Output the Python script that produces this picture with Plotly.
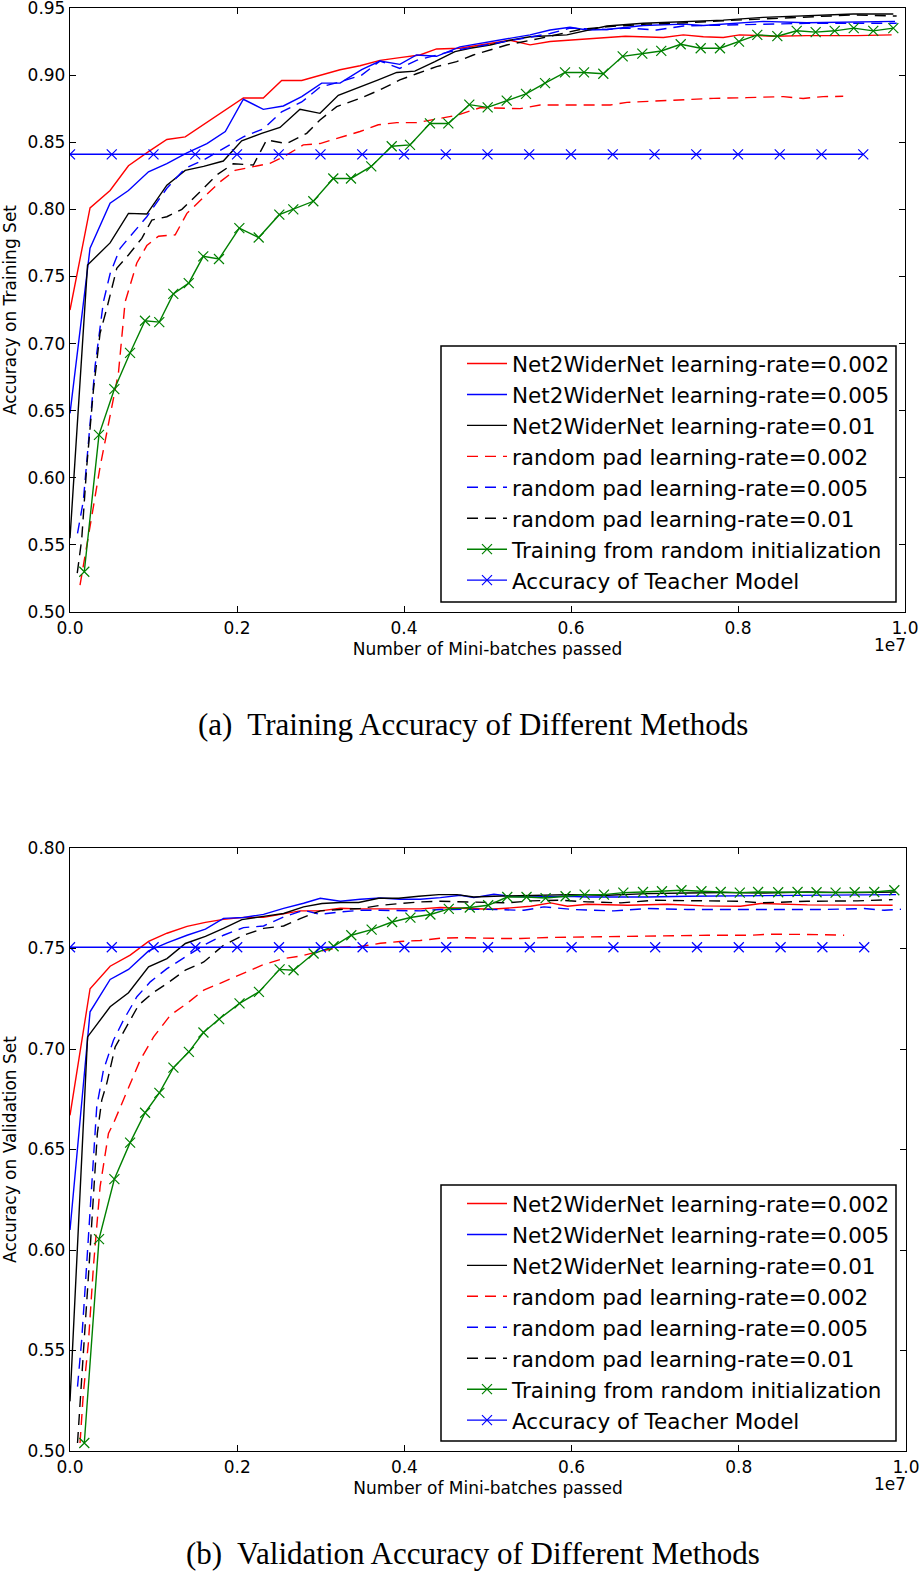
import plotly.graph_objects as go

W, H = 924, 1571

# x values are in units of 1e7 mini-batches
labels = [
    "Net2WiderNet learning-rate=0.002",
    "Net2WiderNet learning-rate=0.005",
    "Net2WiderNet learning-rate=0.01",
    "random pad learning-rate=0.002",
    "random pad learning-rate=0.005",
    "random pad learning-rate=0.01",
    "Training from random initialization",
    "Accuracy of Teacher Model",
]

# ---------- (a) training accuracy ----------
tr_n2w_002_x = [0.0, 0.024, 0.048, 0.070, 0.094, 0.116, 0.138, 0.160, 0.2076, 0.2315, 0.2535, 0.2775, 0.2994,
                0.3234, 0.3473, 0.3713, 0.395, 0.419, 0.439, 0.467, 0.527, 0.551, 0.575, 0.619, 0.665, 0.7106,
                0.7345, 0.7585, 0.7824, 0.802, 0.8423, 0.882, 0.942, 0.984]
tr_n2w_002_y = [0.725, 0.801, 0.814, 0.8325, 0.843, 0.852, 0.854, 0.863, 0.883, 0.883, 0.896, 0.896, 0.900,
                0.904, 0.907, 0.911, 0.913, 0.915, 0.9195, 0.920, 0.926, 0.9225, 0.925, 0.927, 0.929, 0.928,
                0.930, 0.9286, 0.928, 0.930, 0.929, 0.9294, 0.9294, 0.930]

tr_n2w_005_x = [0.0, 0.024, 0.048, 0.070, 0.094, 0.116, 0.140, 0.164, 0.186, 0.2076, 0.2315, 0.2555, 0.2775,
                0.3014, 0.3234, 0.3493, 0.3713, 0.395, 0.415, 0.439, 0.467, 0.503, 0.551, 0.575, 0.5988, 0.619,
                0.643, 0.6866, 0.7345, 0.7585, 0.7824, 0.830, 0.882, 0.942, 0.988]
tr_n2w_005_y = [0.648, 0.771, 0.8045, 0.814, 0.828, 0.834, 0.842, 0.849, 0.858, 0.882, 0.8745, 0.877, 0.884,
                0.894, 0.894, 0.904, 0.9105, 0.908, 0.915, 0.914, 0.921, 0.925, 0.930, 0.9336, 0.9356, 0.9336,
                0.934, 0.937, 0.938, 0.937, 0.938, 0.940, 0.939, 0.9393, 0.940]

tr_n2w_01_x = [0.0, 0.021, 0.048, 0.070, 0.092, 0.116, 0.138, 0.160, 0.1836, 0.2056, 0.2295, 0.2515, 0.2754,
               0.2994, 0.3213, 0.3473, 0.3692, 0.3913, 0.413, 0.437, 0.461, 0.479, 0.503, 0.527, 0.551, 0.595,
               0.643, 0.6866, 0.7345, 0.7824, 0.830, 0.882, 0.938, 0.986]
tr_n2w_01_y = [0.555, 0.7585, 0.775, 0.797, 0.7965, 0.818, 0.829, 0.832, 0.836, 0.851, 0.8566, 0.861, 0.8745,
               0.8715, 0.885, 0.891, 0.8964, 0.902, 0.903, 0.910, 0.9175, 0.920, 0.9224, 0.926, 0.9286, 0.930,
               0.9366, 0.9386, 0.940, 0.941, 0.943, 0.944, 0.9455, 0.9455]

tr_pad_002_x = [0.012, 0.018, 0.026, 0.036, 0.048, 0.058, 0.066, 0.080, 0.092, 0.106, 0.126, 0.140, 0.160, 0.180,
                0.1976, 0.2196, 0.2395, 0.2555, 0.2794, 0.2994, 0.3254, 0.3473, 0.3692, 0.3913, 0.415, 0.435,
                0.463, 0.491, 0.539, 0.563, 0.611, 0.647, 0.667, 0.7026, 0.7385, 0.7705, 0.8104, 0.8543, 0.878,
                0.902, 0.926]
tr_pad_002_y = [0.520, 0.541, 0.571, 0.608, 0.6455, 0.678, 0.731, 0.760, 0.773, 0.780, 0.781, 0.797, 0.809, 0.8206,
                0.829, 0.832, 0.8343, 0.839, 0.848, 0.849, 0.854, 0.858, 0.863, 0.8646, 0.8646, 0.867,
                0.870, 0.8757, 0.875, 0.8777, 0.8777, 0.8777, 0.8797, 0.8807, 0.8815, 0.8827, 0.8832, 0.884, 0.8826,
                0.884, 0.8842]

tr_pad_005_x = [0.009, 0.016, 0.022, 0.030, 0.040, 0.048, 0.060, 0.076, 0.092, 0.116, 0.138, 0.160, 0.1836, 0.2076,
                0.2315, 0.2535, 0.2775, 0.2994, 0.3234, 0.3493, 0.3713, 0.395, 0.415, 0.439, 0.463, 0.503, 0.551,
                0.575, 0.5988, 0.643, 0.667, 0.7026, 0.7345, 0.7824, 0.830, 0.882, 0.942, 0.990]
tr_pad_005_y = [0.5586, 0.583, 0.6257, 0.683, 0.731, 0.752, 0.771, 0.783, 0.7945, 0.8157, 0.8306, 0.8368, 0.8455,
                0.854, 0.860, 0.8727, 0.880, 0.891, 0.895, 0.900, 0.9105, 0.905, 0.911, 0.915, 0.9187, 0.923, 0.928,
                0.931, 0.935, 0.934, 0.935, 0.9336, 0.9366, 0.9373, 0.938, 0.9386, 0.9386, 0.9386]

tr_pad_01_x = [0.0087, 0.014, 0.020, 0.028, 0.036, 0.044, 0.056, 0.070, 0.086, 0.098, 0.116, 0.134, 0.1557,
               0.1757, 0.1956, 0.2196, 0.2355, 0.2595, 0.2835, 0.2994, 0.3194, 0.3473, 0.3713, 0.395, 0.415,
               0.439, 0.463, 0.483, 0.523, 0.563, 0.611, 0.643, 0.6906, 0.7385, 0.7824, 0.830, 0.882, 0.938, 0.990]
tr_pad_01_y = [0.529, 0.554, 0.608, 0.665, 0.7077, 0.726, 0.756, 0.766, 0.7784, 0.792, 0.7945, 0.800, 0.813,
               0.8256, 0.834, 0.833, 0.8517, 0.849, 0.8566, 0.8666, 0.8765, 0.8827, 0.889, 0.8964, 0.901,
               0.9063, 0.910, 0.915, 0.9224, 0.9274, 0.934, 0.936, 0.938, 0.939, 0.9405, 0.9418, 0.943, 0.9448, 0.944]

rand_init_x = [0.0171, 0.0347, 0.0531, 0.0719, 0.0898, 0.1069, 0.1237, 0.1422, 0.1596, 0.1784, 0.2028, 0.2260,
               0.2507, 0.2674, 0.2914, 0.3153, 0.3365, 0.3608, 0.3853, 0.4072, 0.4311, 0.4531, 0.4782, 0.5002,
               0.5230, 0.5461, 0.5689, 0.5928, 0.6156, 0.6387, 0.6619, 0.6854, 0.7081, 0.7314, 0.7553, 0.7784,
               0.8012, 0.8231, 0.8471, 0.8703, 0.8930, 0.9158, 0.9386, 0.9620, 0.9860]
tr_rand_init_y = [0.530, 0.632, 0.666, 0.693, 0.717, 0.716, 0.737, 0.745, 0.765, 0.763, 0.786, 0.779, 0.796,
                  0.800, 0.806, 0.823, 0.823, 0.832, 0.847, 0.848, 0.864, 0.864, 0.878, 0.876, 0.881, 0.886,
                  0.894, 0.902, 0.902, 0.901, 0.914, 0.916, 0.918, 0.923, 0.920, 0.920, 0.925, 0.930, 0.929,
                  0.933, 0.932, 0.933, 0.935, 0.933, 0.935]

teacher_x = [0.0, 0.05, 0.10, 0.15, 0.20, 0.25, 0.30, 0.35, 0.40, 0.45,
             0.50, 0.55, 0.60, 0.65, 0.70, 0.75, 0.80, 0.85, 0.90, 0.95]
tr_teacher_acc = 0.841

# ---------- (b) validation accuracy ----------
va_n2w_002_x = [0.0, 0.024, 0.048, 0.072, 0.094, 0.116, 0.140, 0.162, 0.1836, 0.2076, 0.2315, 0.2515, 0.2754,
                0.2994, 0.3234, 0.3473, 0.3713, 0.395, 0.419, 0.443, 0.479, 0.503, 0.527, 0.551, 0.575, 0.595,
                0.619, 0.667, 0.7146, 0.7585, 0.802, 0.8264, 0.882, 0.942, 0.984]
va_n2w_002_y = [0.667, 0.730, 0.7412, 0.7467, 0.7535, 0.7576, 0.761, 0.763, 0.7645, 0.7655, 0.7655, 0.767, 0.7687,
                0.7687, 0.770, 0.7697, 0.7697, 0.7697, 0.7697, 0.7704, 0.7699, 0.7695, 0.7702, 0.771, 0.7727,
                0.771, 0.772, 0.7715, 0.772, 0.7712, 0.771, 0.7724, 0.7717, 0.7715, 0.7715]

va_n2w_005_x = [0.0, 0.024, 0.048, 0.070, 0.094, 0.116, 0.140, 0.162, 0.1836, 0.2076, 0.2315, 0.2555, 0.2794,
                0.2994, 0.3234, 0.3473, 0.3713, 0.395, 0.419, 0.443, 0.467, 0.483, 0.507, 0.527, 0.551, 0.595,
                0.619, 0.643, 0.6906, 0.7385, 0.7824, 0.830, 0.882, 0.942, 0.988]
va_n2w_005_y = [0.610, 0.7185, 0.7346, 0.7396, 0.7488, 0.7528, 0.7566, 0.7596, 0.765, 0.7654, 0.767, 0.770,
                0.7725, 0.775, 0.7735, 0.7745, 0.7751, 0.7745, 0.7745, 0.7753, 0.7765, 0.7753, 0.777, 0.776,
                0.7756, 0.776, 0.7756, 0.7756, 0.7756, 0.776, 0.7761, 0.7765, 0.7765, 0.7765, 0.7768]

va_n2w_01_x = [0.0, 0.021, 0.048, 0.070, 0.094, 0.116, 0.138, 0.162, 0.1836, 0.2056, 0.2315, 0.2555, 0.2794,
               0.3014, 0.3234, 0.3453, 0.3692, 0.3932, 0.4171, 0.441, 0.463, 0.483, 0.507, 0.551, 0.595, 0.643,
               0.6906, 0.7385, 0.7824, 0.830, 0.882, 0.942, 0.988]
va_n2w_01_y = [0.5247, 0.706, 0.721, 0.728, 0.7409, 0.745, 0.7525, 0.756, 0.760, 0.7644, 0.766, 0.7674, 0.7707,
               0.7724, 0.7729, 0.7729, 0.775, 0.775, 0.776, 0.7768, 0.7768, 0.7756, 0.776, 0.7765, 0.7768, 0.7765,
               0.7773, 0.7776, 0.7778, 0.7776, 0.7781, 0.7778, 0.7781]

va_pad_002_x = [0.012, 0.016, 0.022, 0.028, 0.036, 0.046, 0.052, 0.068, 0.084, 0.100, 0.120, 0.140, 0.160, 0.1836,
                0.2076, 0.2315, 0.2555, 0.2754, 0.2994, 0.3234, 0.3473, 0.3713, 0.395, 0.419, 0.443, 0.467, 0.515,
                0.539, 0.575, 0.623, 0.667, 0.7146, 0.7625, 0.8144, 0.8343, 0.882, 0.926]
va_pad_002_y = [0.504, 0.529, 0.5537, 0.5917, 0.6315, 0.658, 0.663, 0.6787, 0.6945, 0.706, 0.7168, 0.7227, 0.7293,
                0.7334, 0.7379, 0.742, 0.745, 0.7462, 0.7487, 0.7506, 0.751, 0.7526, 0.7535, 0.754, 0.7551, 0.7554,
                0.755, 0.755, 0.7555, 0.7558, 0.7561, 0.7561, 0.7566, 0.7566, 0.7571, 0.757, 0.7566]

va_pad_005_x = [0.009, 0.014, 0.019, 0.023, 0.028, 0.032, 0.040, 0.052, 0.064, 0.080, 0.096, 0.116, 0.138, 0.160,
                0.1836, 0.2076, 0.2315, 0.2555, 0.2794, 0.2994, 0.3234, 0.3473, 0.3713, 0.395, 0.419, 0.443, 0.499,
                0.543, 0.567, 0.6028, 0.6507, 0.6906, 0.7385, 0.7944, 0.8423, 0.902, 0.950, 0.974, 0.994]
va_pad_005_y = [0.532, 0.5553, 0.5867, 0.6116, 0.6448, 0.6713, 0.6895, 0.7044, 0.7144, 0.726, 0.7334, 0.740,
                0.7458, 0.7516, 0.7566, 0.7604, 0.7612, 0.7657, 0.769, 0.767, 0.7682, 0.769, 0.769, 0.769, 0.7687,
                0.7694, 0.7695, 0.769, 0.7707, 0.7694, 0.7687, 0.7699, 0.7694, 0.7694, 0.7695, 0.7694, 0.7699,
                0.769, 0.7695]

va_pad_01_x = [0.009, 0.012, 0.017, 0.022, 0.027, 0.0327, 0.038, 0.044, 0.054, 0.066, 0.082, 0.098, 0.116, 0.138,
               0.160, 0.1836, 0.2076, 0.2315, 0.2555, 0.2754, 0.2994, 0.3234, 0.3473, 0.3713, 0.395, 0.419, 0.443,
               0.483, 0.523, 0.551, 0.587, 0.619, 0.659, 0.6986, 0.7465, 0.802, 0.8264, 0.882, 0.942, 0.984]
va_pad_01_y = [0.504, 0.5255, 0.5553, 0.5867, 0.620, 0.658, 0.6746, 0.6829, 0.701, 0.7102, 0.7218, 0.7276, 0.7326,
               0.7392, 0.7433, 0.7516, 0.7566, 0.760, 0.7612, 0.7649, 0.7687, 0.7694, 0.7699, 0.7715, 0.7724, 0.7732,
               0.7735, 0.7732, 0.7727, 0.7737, 0.774, 0.7732, 0.7727, 0.774, 0.7737, 0.7735, 0.7727, 0.7735, 0.7737,
               0.7743]

va_rand_init_y = [0.504, 0.6054, 0.6353, 0.6534, 0.6683, 0.6782, 0.6907, 0.6986, 0.7082, 0.7149, 0.7227, 0.7284,
                  0.7396, 0.7392, 0.7475, 0.7511, 0.7566, 0.7594, 0.7632, 0.7654, 0.7669, 0.7697, 0.7704, 0.7715,
                  0.7756, 0.7756, 0.7751, 0.776, 0.7768, 0.7768, 0.7778, 0.7781, 0.7785, 0.779, 0.7785, 0.7781,
                  0.7778, 0.7781, 0.778, 0.7781, 0.778, 0.7778, 0.778, 0.7781, 0.779]
va_teacher_acc = 0.7506

x_ticks = [0.0, 0.2, 0.4, 0.6, 0.8, 1.0]
tr_y_ticks = [0.50, 0.55, 0.60, 0.65, 0.70, 0.75, 0.80, 0.85, 0.90, 0.95]
va_y_ticks = [0.50, 0.55, 0.60, 0.65, 0.70, 0.75, 0.80]

RED, BLUE, BLACK, GREEN = "#ff0000", "#0000ff", "#000000", "#008000"
DASH = "11px,7px"
FONT = "DejaVu Sans"


# pixel -> paper coordinate
def px_x(p):
    return p / W


def px_y(p):
    return 1 - p / H


fig = go.Figure()


def add_panel(series, rand_y, teacher_acc, xa, ya, leg):
    styles = [(RED, "solid"), (BLUE, "solid"), (BLACK, "solid"),
              (RED, DASH), (BLUE, DASH), (BLACK, DASH)]
    for (xs, ys), (col, dash), name in zip(series, styles, labels):
        fig.add_trace(go.Scatter(x=xs, y=ys, mode="lines", name=name, xaxis=xa, yaxis=ya,
                                 legend=leg, legendgroup=leg + name,
                                 line=dict(color=col, width=1.4, dash=dash)))
    fig.add_trace(go.Scatter(x=rand_init_x, y=rand_y, mode="lines+markers", name=labels[6],
                             xaxis=xa, yaxis=ya, legend=leg, legendgroup=leg + labels[6],
                             line=dict(color=GREEN, width=1.4),
                             marker=dict(symbol="x-thin", size=10, line=dict(color=GREEN, width=1.2))))
    fig.add_trace(go.Scatter(x=teacher_x, y=[teacher_acc] * len(teacher_x), mode="lines+markers",
                             name=labels[7], xaxis=xa, yaxis=ya, legend=leg,
                             legendgroup=leg + labels[7],
                             line=dict(color=BLUE, width=1.4),
                             marker=dict(symbol="x-thin", size=10, line=dict(color=BLUE, width=1.2))))


add_panel([(tr_n2w_002_x, tr_n2w_002_y), (tr_n2w_005_x, tr_n2w_005_y), (tr_n2w_01_x, tr_n2w_01_y),
           (tr_pad_002_x, tr_pad_002_y), (tr_pad_005_x, tr_pad_005_y), (tr_pad_01_x, tr_pad_01_y)],
          tr_rand_init_y, tr_teacher_acc, "x", "y", "legend")
add_panel([(va_n2w_002_x, va_n2w_002_y), (va_n2w_005_x, va_n2w_005_y), (va_n2w_01_x, va_n2w_01_y),
           (va_pad_002_x, va_pad_002_y), (va_pad_005_x, va_pad_005_y), (va_pad_01_x, va_pad_01_y)],
          va_rand_init_y, va_teacher_acc, "x2", "y2", "legend2")

axis_common = dict(showline=True, linecolor="black", linewidth=1.3, mirror="ticks", ticks="inside",
                   ticklen=6, tickwidth=1, tickcolor="black", showgrid=False, zeroline=False,
                   automargin=False, ticklabeloverflow="allow",
                   tickfont=dict(family=FONT, size=17, color="black"))
xaxis_common = dict(axis_common, range=[0, 1.0], tickvals=x_ticks, tickformat=".1f",
                    title=dict(text="Number of Mini-batches passed", standoff=6,
                               font=dict(family=FONT, size=17, color="black")))

legend_common = dict(xanchor="left", yanchor="top", bgcolor="rgba(0,0,0,0)", borderwidth=0,
                     font=dict(family=FONT, size=21.5, color="black"),
                     itemwidth=40, tracegroupgap=0, traceorder="grouped")

fig.update_layout(
    width=W, height=H,
    margin=dict(l=0, r=0, t=0, b=0),
    paper_bgcolor="white", plot_bgcolor="white",
    showlegend=True,
    xaxis=dict(xaxis_common, domain=[px_x(70), px_x(905)], anchor="y"),
    yaxis=dict(axis_common, domain=[px_y(612), px_y(8)], anchor="x", range=[0.50, 0.95],
               tickvals=tr_y_ticks, tickformat=".2f",
               title=dict(text="Accuracy on Training Set", standoff=8,
                          font=dict(family=FONT, size=17, color="black"))),
    xaxis2=dict(xaxis_common, domain=[px_x(70), px_x(906)], anchor="y2"),
    yaxis2=dict(axis_common, domain=[px_y(1451), px_y(848)], anchor="x2", range=[0.50, 0.80],
                tickvals=va_y_ticks, tickformat=".2f",
                title=dict(text="Accuracy on Validation Set", standoff=8,
                           font=dict(family=FONT, size=17, color="black"))),
    legend=dict(legend_common, x=px_x(462), y=px_y(343)),
    legend2=dict(legend_common, x=px_x(462), y=px_y(1183)),
)

# legend frames (white boxes hiding the curves behind the legends)
for top, bottom in ((346, 602), (1185, 1441)):
    fig.add_shape(type="rect", xref="paper", yref="paper", layer="above",
                  x0=px_x(441), x1=px_x(896), y0=px_y(bottom), y1=px_y(top),
                  line=dict(color="black", width=1.5), fillcolor="white")

for yp in (645, 1484):
    fig.add_annotation(text="1e7", xref="paper", yref="paper", x=px_x(908), y=px_y(yp),
                       xanchor="right", yanchor="middle", showarrow=False,
                       font=dict(family=FONT, size=17, color="black"))

captions = [("(a)  Training Accuracy of Different Methods", 724),
            ("(b)  Validation Accuracy of Different Methods", 1553)]
for text, yp in captions:
    fig.add_annotation(text=text, xref="paper", yref="paper", x=px_x(473), y=px_y(yp),
                       xanchor="center", yanchor="middle", showarrow=False,
                       font=dict(family="Liberation Serif", size=31, color="black"))

# drop the browser's default body margin so the figure sits at the window corner
fig.write_html("out.html", config={"displayModeBar": False},
               post_script="document.body.style.margin = '0px';")
